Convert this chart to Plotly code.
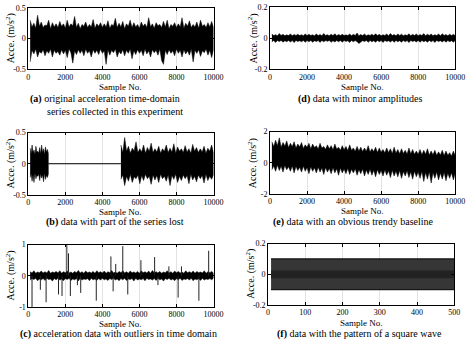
import numpy as np
import plotly.graph_objects as go

FONT = "Liberation Serif"

# ---------------- data (envelopes) ----------------
sample_x = np.linspace(100, 10000, 100)

a_upper = [0.30,0.19,0.25,0.17,0.38,0.20,0.27,0.18,0.22,0.21,
           0.30,0.16,0.26,0.19,0.24,0.18,0.28,0.20,0.24,0.17,
           0.30,0.19,0.24,0.21,0.36,0.18,0.25,0.16,0.23,0.20,
           0.27,0.18,0.23,0.19,0.31,0.17,0.24,0.20,0.26,0.18,
           0.24,0.19,0.29,0.17,0.23,0.21,0.33,0.18,0.25,0.19,
           0.28,0.16,0.24,0.20,0.30,0.18,0.26,0.19,0.23,0.17,
           0.27,0.20,0.24,0.18,0.34,0.19,0.24,0.17,0.26,0.21,
           0.23,0.18,0.28,0.19,0.30,0.16,0.23,0.20,0.26,0.18,
           0.24,0.19,0.34,0.17,0.25,0.20,0.29,0.18,0.23,0.19,
           0.27,0.17,0.30,0.20,0.23,0.18,0.26,0.19,0.28,0.18]
a_lower = [-0.38,-0.19,-0.25,-0.17,-0.30,-0.21,-0.24,-0.18,-0.28,-0.20,
           -0.24,-0.17,-0.30,-0.19,-0.24,-0.21,-0.27,-0.18,-0.25,-0.19,
           -0.31,-0.17,-0.23,-0.40,-0.20,-0.26,-0.18,-0.24,-0.19,-0.28,
           -0.17,-0.24,-0.20,-0.30,-0.18,-0.24,-0.19,-0.26,-0.17,-0.24,
           -0.20,-0.42,-0.18,-0.27,-0.19,-0.23,-0.17,-0.30,-0.21,-0.25,
           -0.18,-0.28,-0.19,-0.24,-0.17,-0.33,-0.20,-0.26,-0.18,-0.24,
           -0.19,-0.28,-0.17,-0.25,-0.20,-0.30,-0.18,-0.23,-0.19,-0.27,
           -0.17,-0.36,-0.42,-0.19,-0.26,-0.18,-0.24,-0.20,-0.28,-0.17,
           -0.24,-0.19,-0.30,-0.18,-0.25,-0.20,-0.27,-0.17,-0.38,-0.19,
           -0.24,-0.18,-0.29,-0.20,-0.23,-0.17,-0.27,-0.19,-0.31,-0.18]

d_upper = [0.026,0.016,0.022,0.015,0.029,0.017,0.024,0.015,0.021,0.016,
           0.027,0.015,0.023,0.017,0.025,0.016,0.022,0.015,0.027,0.016,
           0.024,0.017,0.021,0.015,0.026,0.016,0.023,0.015,0.030,0.017,
           0.022,0.015,0.025,0.016,0.028,0.015,0.023,0.017,0.024,0.016,
           0.021,0.016,0.027,0.015,0.024,0.017,0.032,0.015,0.023,0.016,
           0.026,0.015,0.022,0.017,0.025,0.016,0.028,0.016,0.024,0.015,
           0.022,0.017,0.026,0.015,0.030,0.016,0.023,0.015,0.027,0.017,
           0.025,0.015,0.022,0.016,0.028,0.015,0.024,0.017,0.026,0.015,
           0.023,0.016,0.029,0.015,0.025,0.017,0.027,0.015,0.022,0.016,
           0.026,0.015,0.028,0.017,0.023,0.015,0.025,0.016,0.024,0.015]
d_lower = [-0.024,-0.015,-0.028,-0.016,-0.022,-0.015,-0.026,-0.017,-0.023,-0.015,
           -0.025,-0.016,-0.029,-0.015,-0.022,-0.017,-0.024,-0.015,-0.027,-0.016,
           -0.023,-0.015,-0.026,-0.017,-0.022,-0.016,-0.028,-0.015,-0.024,-0.016,
           -0.021,-0.015,-0.027,-0.017,-0.025,-0.015,-0.023,-0.016,-0.026,-0.015,
           -0.022,-0.017,-0.028,-0.015,-0.024,-0.016,-0.023,-0.034,-0.025,-0.017,
           -0.022,-0.015,-0.027,-0.016,-0.024,-0.017,-0.026,-0.015,-0.023,-0.016,
           -0.028,-0.015,-0.022,-0.017,-0.025,-0.015,-0.027,-0.016,-0.023,-0.017,
           -0.026,-0.015,-0.024,-0.016,-0.029,-0.015,-0.022,-0.017,-0.025,-0.015,
           -0.027,-0.016,-0.023,-0.017,-0.026,-0.015,-0.024,-0.016,-0.028,-0.015,
           -0.022,-0.017,-0.025,-0.015,-0.027,-0.016,-0.023,-0.017,-0.026,-0.015]

e_upper = [1.35,1.05,1.45,1.10,1.60,1.00,1.30,1.08,1.40,0.98,
           1.25,1.05,1.35,0.95,1.20,1.02,1.30,0.92,1.15,1.00,
           1.25,0.90,1.20,0.98,1.10,0.88,1.25,0.95,1.05,0.86,
           1.15,0.90,1.10,0.84,1.20,0.88,1.00,0.80,1.10,0.84,
           1.05,0.78,1.15,0.80,0.95,0.74,1.05,0.76,1.00,0.72,
           0.95,0.74,1.10,0.70,0.90,0.72,1.00,0.66,0.95,0.68,
           0.85,0.64,0.95,0.66,0.90,0.60,1.00,0.62,0.85,0.58,
           0.90,0.60,0.80,0.56,0.95,0.58,0.85,0.54,0.75,0.55,
           0.85,0.52,0.80,0.54,0.90,0.50,0.75,0.52,0.80,0.48,
           0.70,0.50,0.80,0.46,0.75,0.48,0.65,0.44,0.75,0.45]
e_lower = [-0.45,-0.20,-0.55,-0.15,-0.50,-0.22,-0.60,-0.18,-0.45,-0.25,
           -0.55,-0.20,-0.65,-0.24,-0.50,-0.28,-0.60,-0.22,-0.55,-0.30,
           -0.70,-0.26,-0.55,-0.32,-0.65,-0.28,-0.60,-0.34,-0.75,-0.30,
           -0.60,-0.36,-0.70,-0.32,-0.65,-0.38,-0.80,-0.34,-0.65,-0.40,
           -0.70,-0.36,-0.75,-0.42,-0.65,-0.38,-0.80,-0.44,-0.70,-0.40,
           -0.85,-0.46,-0.75,-0.42,-0.80,-0.48,-0.90,-0.44,-0.75,-0.50,
           -0.85,-0.46,-0.80,-0.52,-0.95,-0.48,-0.85,-0.54,-0.90,-0.50,
           -1.00,-0.56,-0.85,-0.52,-0.95,-0.58,-1.05,-0.54,-0.90,-0.60,
           -1.00,-0.56,-1.20,-0.62,-1.05,-0.58,-1.30,-0.64,-1.00,-0.60,
           -1.10,-0.66,-1.05,-0.62,-1.15,-0.68,-1.00,-0.64,-1.10,-0.66]

b1_x = np.linspace(100, 1080, 20)
b1_upper = [0.25,0.16,0.30,0.18,0.22,0.15,0.28,0.19,0.20,0.17,
            0.26,0.16,0.30,0.18,0.24,0.15,0.27,0.19,0.23,0.17]
b1_lower = [-0.22,-0.16,-0.28,-0.18,-0.30,-0.15,-0.24,-0.19,-0.20,-0.17,
            -0.27,-0.16,-0.23,-0.18,-0.29,-0.15,-0.25,-0.19,-0.22,-0.17]
b_gap = [1080, 5000]
b2_x = np.linspace(5000, 10000, 50)
b2_upper = [0.30,0.18,0.42,0.20,0.28,0.17,0.25,0.21,0.35,0.18,
            0.24,0.19,0.30,0.17,0.26,0.20,0.33,0.18,0.24,0.19,
            0.28,0.17,0.24,0.20,0.30,0.18,0.25,0.19,0.32,0.17,
            0.27,0.20,0.24,0.18,0.29,0.19,0.24,0.17,0.31,0.20,
            0.26,0.18,0.24,0.19,0.28,0.17,0.25,0.20,0.30,0.18]
b2_lower = [-0.25,-0.18,-0.35,-0.20,-0.28,-0.17,-0.30,-0.21,-0.24,-0.18,
            -0.32,-0.19,-0.27,-0.17,-0.24,-0.20,-0.33,-0.18,-0.26,-0.19,
            -0.30,-0.17,-0.24,-0.20,-0.28,-0.18,-0.35,-0.19,-0.25,-0.17,
            -0.30,-0.20,-0.27,-0.18,-0.24,-0.19,-0.32,-0.17,-0.26,-0.20,
            -0.29,-0.18,-0.24,-0.19,-0.31,-0.17,-0.27,-0.20,-0.25,-0.18]

c_upper = [0.13,0.09,0.16,0.08,0.12,0.10,0.15,0.09,0.13,0.09,
           0.17,0.08,0.12,0.10,0.14,0.09,0.16,0.08,0.13,0.10,
           0.15,0.09,0.12,0.08,0.14,0.10,0.17,0.09,0.13,0.08,
           0.15,0.10,0.12,0.09,0.14,0.08,0.16,0.10,0.13,0.09,
           0.15,0.08,0.13,0.10,0.17,0.09,0.12,0.08,0.14,0.10,
           0.16,0.09,0.13,0.08,0.15,0.10,0.12,0.09,0.14,0.08,
           0.16,0.10,0.13,0.09,0.15,0.08,0.17,0.10,0.13,0.09,
           0.14,0.08,0.12,0.10,0.16,0.09,0.13,0.08,0.15,0.10,
           0.14,0.09,0.12,0.08,0.16,0.10,0.13,0.09,0.15,0.08,
           0.14,0.10,0.12,0.09,0.16,0.08,0.13,0.10,0.14,0.09]
c_lower = [-0.14,-0.09,-0.12,-0.08,-0.16,-0.10,-0.13,-0.09,-0.15,-0.08,
           -0.12,-0.10,-0.17,-0.09,-0.13,-0.08,-0.14,-0.10,-0.16,-0.09,
           -0.12,-0.08,-0.15,-0.10,-0.13,-0.09,-0.17,-0.08,-0.14,-0.10,
           -0.12,-0.09,-0.16,-0.08,-0.13,-0.10,-0.15,-0.09,-0.14,-0.08,
           -0.13,-0.10,-0.15,-0.09,-0.12,-0.08,-0.14,-0.10,-0.16,-0.09,
           -0.13,-0.08,-0.15,-0.10,-0.12,-0.09,-0.17,-0.08,-0.14,-0.10,
           -0.13,-0.09,-0.16,-0.08,-0.12,-0.10,-0.14,-0.09,-0.15,-0.08,
           -0.13,-0.10,-0.17,-0.09,-0.12,-0.08,-0.14,-0.10,-0.16,-0.09,
           -0.13,-0.08,-0.15,-0.10,-0.12,-0.09,-0.14,-0.08,-0.16,-0.10,
           -0.13,-0.09,-0.15,-0.08,-0.14,-0.10,-0.12,-0.09,-0.13,-0.08]
c_outlier_x = [200, 650, 960, 1630, 1820, 2080, 2170, 2270, 2650, 2830,
               3670, 4460, 4580, 4720, 5100, 5370, 6080, 6820, 7000, 7590,
               8090, 8270, 9210, 9740]
c_outlier_y = [-1.0, -0.45, -0.85, -0.6, -0.65, 1.0, 0.72, -0.65, -0.3, -0.55,
               -0.8, 0.62, -0.5, 0.38, 0.95, -0.6, 0.5, 0.6, -0.3, 0.3,
               -0.7, 0.3, -0.8, 0.8]

f_x = [8, 500]
f_amp = 0.1
f_core = 0.025

captions = [
    ("a", "original acceleration time-domain"),
    ("d", "data with minor amplitudes"),
    ("b", "data with part of the series lost"),
    ("e", "data with an obvious trendy baseline"),
    ("c", "acceleration data with outliers in time domain"),
    ("f", "data with the pattern of a square wave"),
]
caption2_a = "series collected in this experiment"
x_ticks_long = [0, 2000, 4000, 6000, 8000, 10000]
x_ticks_short = [0, 100, 200, 300, 400, 500]

# ---------------- layout geometry (pixels) ----------------
W, H = 474, 347
def px(x): return x / W
def py(y): return 1 - y / H

LEFT = (27, 217)
RIGHT = (275, 465)
panels = {  # name: (xpix, ytop, ybottom, xrange, yrange, yticks)
    "a": (LEFT, 4, 67, [0, 10000], [-0.5, 0.5], [-0.5, 0, 0.5]),
    "d": (RIGHT, 3, 67, [0, 10000], [-0.2, 0.2], [-0.2, 0, 0.2]),
    "b": (LEFT, 132, 196, [0, 10000], [-0.5, 0.5], [-0.5, 0, 0.5]),
    "e": (RIGHT, 131, 195, [0, 10000], [-2, 2], [-2, 0, 2]),
    "c": (LEFT, 247, 311, [0, 10000], [-1, 1], [-1, 0, 1]),
    "f": ((273, 464), 246, 309, [0, 500], [-0.2, 0.2], [-0.2, 0, 0.2]),
}
order = ["a", "d", "b", "e", "c", "f"]

fig = go.Figure()
axid = {n: ("" if i == 0 else str(i + 1)) for i, n in enumerate(order)}

def band(x, up, lo, ax, color="black", lw=0.5):
    x = list(x)
    fig.add_trace(go.Scatter(
        x=x + x[::-1], y=list(up) + list(lo)[::-1],
        fill="toself", fillcolor=color, mode="lines",
        line=dict(color=color, width=lw), xaxis="x" + ax, yaxis="y" + ax,
        showlegend=False, hoverinfo="skip"))

band(sample_x, a_upper, a_lower, axid["a"])
band(sample_x, d_upper, d_lower, axid["d"])
band(b1_x, b1_upper, b1_lower, axid["b"])
fig.add_trace(go.Scatter(x=b_gap, y=[0, 0], mode="lines", line=dict(color="black", width=1),
                         xaxis="x" + axid["b"], yaxis="y" + axid["b"], showlegend=False))
band(b2_x, b2_upper, b2_lower, axid["b"])
band(sample_x, e_upper, e_lower, axid["e"])
band(sample_x, c_upper, c_lower, axid["c"])
ox, oy = [], []
for xv, yv in zip(c_outlier_x, c_outlier_y):
    ox += [xv, xv, None]
    oy += [0, yv, None]
fig.add_trace(go.Scatter(x=ox, y=oy, mode="lines", line=dict(color="#222", width=1),
                         xaxis="x" + axid["c"], yaxis="y" + axid["c"], showlegend=False))
band(f_x, [f_amp, f_amp], [-f_amp, -f_amp], axid["f"], color="#363636", lw=1)
band(f_x, [f_core, f_core], [-f_core, -f_core], axid["f"], color="#222222", lw=0)
fig.add_trace(go.Scatter(x=f_x + [None] + f_x, y=[f_amp, f_amp, None, -f_amp, -f_amp],
                         mode="lines", line=dict(color="#111", width=1),
                         xaxis="x" + axid["f"], yaxis="y" + axid["f"], showlegend=False))

annotations = []
layout = dict(width=W, height=H, margin=dict(l=0, r=0, t=0, b=0),
              paper_bgcolor="white", plot_bgcolor="white", showlegend=False,
              font=dict(family=FONT, size=9, color="black"))

for name in order:
    (x0, x1), yt, yb, xr, yr, yticks = panels[name]
    a = axid[name]
    xt = x_ticks_short if name == "f" else x_ticks_long
    common = dict(showline=True, linecolor="black", linewidth=0.8, mirror="ticks",
                  ticks="inside", ticklen=3, tickcolor="black", tickwidth=0.8,
                  showgrid=True, gridcolor="#e3e3e3", gridwidth=0.8, zeroline=False,
                  tickfont=dict(family=FONT, size=8, color="black"))
    layout["xaxis" + a] = dict(common, domain=[px(x0), px(x1)], range=xr, tickvals=xt,
                               ticktext=[str(v) for v in xt], anchor="y" + a)
    layout["yaxis" + a] = dict(common, domain=[py(yb), py(yt)], range=yr, tickvals=yticks,
                               ticktext=[("%g" % v) for v in yticks], anchor="x" + a)
    xc = (x0 + x1) / 2
    annotations.append(dict(x=px(xc), y=py(yb + 18), xref="paper", yref="paper",
                            text="Sample No.", showarrow=False,
                            font=dict(family=FONT, size=9), xanchor="center", yanchor="middle"))
    annotations.append(dict(x=px(x0 - 18), y=py((yt + yb) / 2), xref="paper", yref="paper",
                            text="Acce. (m/s<sup>2</sup>)", textangle=-90, showarrow=False,
                            font=dict(family=FONT, size=10), xanchor="center", yanchor="middle"))

cap_pos = {"a": (106, 98), "d": (368, 98), "b": (116, 224), "e": (361, 224),
           "c": (120, 339), "f": (367, 339)}
for letter, text in captions:
    cx, cy = cap_pos[letter]
    annotations.append(dict(x=px(cx), y=py(cy), xref="paper", yref="paper",
                            text="<b>(%s)</b> %s" % (letter, text), showarrow=False,
                            font=dict(family=FONT, size=10), xanchor="center", yanchor="middle"))
annotations.append(dict(x=px(116), y=py(110), xref="paper", yref="paper",
                        text=caption2_a, showarrow=False,
                        font=dict(family=FONT, size=10), xanchor="center", yanchor="middle"))

layout["annotations"] = annotations
fig.update_layout(**layout)
fig.write_html("out.html")
